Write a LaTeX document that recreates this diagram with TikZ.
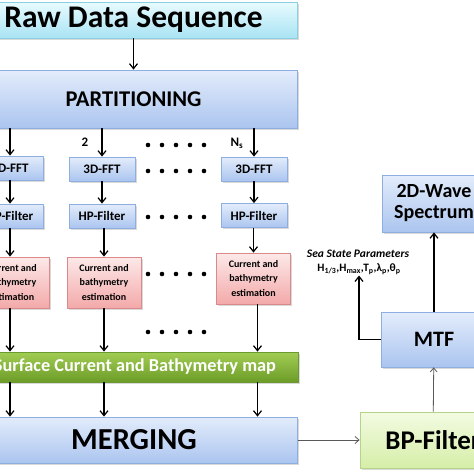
\documentclass[tikz,border=0pt]{standalone}
\usepackage{fontspec}
\setmainfont{Carlito}
\usetikzlibrary{arrows.meta,shadows}
\definecolor{rawtop}{HTML}{E8FBFE}
\definecolor{rawbot}{HTML}{A9E3F3}
\definecolor{rawline}{HTML}{8CCFE0}
\definecolor{boxtop}{HTML}{E3ECFB}
\definecolor{boxbot}{HTML}{ABC5EF}
\definecolor{boxline}{HTML}{8EAEE0}
\definecolor{curtop}{HTML}{FDE9E9}
\definecolor{curbot}{HTML}{F3A9A9}
\definecolor{curline}{HTML}{DA8A8A}
\definecolor{grntop}{HTML}{A2CD54}
\definecolor{grnbot}{HTML}{6C9C28}
\definecolor{grnline}{HTML}{6A9A30}
\definecolor{bptop}{HTML}{F3FBE2}
\definecolor{bpbot}{HTML}{D5EEA8}
\definecolor{bpline}{HTML}{B5D38A}
\newcommand\fsz[1]{\fontsize{#1}{#1}\selectfont\bfseries}
\begin{document}
\begin{tikzpicture}[x=1pt,y=-1pt,
  boxshadow/.style={drop shadow={shadow xshift=1.5pt,shadow yshift=-1.5pt,opacity=0.3},inner sep=0pt,line width=0.8pt},
  bluebox/.style={boxshadow,draw=boxline,top color=boxtop,bottom color=boxbot},
  fftbox/.style={bluebox,minimum width=66pt,minimum height=24pt,font=\fsz{13}},
  curbox/.style={boxshadow,draw=curline,top color=curtop,bottom color=curbot,minimum width=74pt,minimum height=51pt,align=center,font=\fontsize{10}{14.5}\selectfont\bfseries},
  arr/.style={-{Straight Barb[length=5pt,width=8pt]},line width=1.2pt},
  garr/.style={-{Straight Barb[length=4pt,width=7pt]},line width=0.8pt,black!65}]
\useasboundingbox (0,0) rectangle (474,474);
\clip (0,0) rectangle (474,474);
\node[boxshadow,draw=rawline,top color=rawtop,bottom color=rawbot,minimum width=327pt,minimum height=36pt,font=\fsz{31.5}] (raw) at (133.5,20) {Raw Data Sequence};
\node[bluebox,minimum width=327pt,minimum height=58pt,font=\fsz{22.5}] (part) at (133.5,99) {PARTITIONING};
\node[fftbox] (fft1) at (10,168) {3D-FFT};
\node[fftbox] (fft2) at (102,169) {3D-FFT};
\node[fftbox] (fft3) at (254,169) {3D-FFT};
\node[fftbox] (hp1) at (10,216) {HP-Filter};
\node[fftbox] (hp2) at (102,216) {HP-Filter};
\node[fftbox] (hp3) at (254,215.5) {HP-Filter};
\node[curbox] (cur1) at (12,282.5) {Current and\\bathymetry\\estimation};
\node[curbox] (cur2) at (104,282.5) {Current and\\bathymetry\\estimation};
\node[curbox] (cur3) at (253.5,278.5) {Current and\\bathymetry\\estimation};
\node[boxshadow,draw=grnline,top color=grntop,bottom color=grnbot,minimum width=327pt,minimum height=30pt,text=white,font=\fsz{18.3}] (map) at (135,367) {Surface Current and Bathymetry map};
\node[bluebox,minimum width=327pt,minimum height=46pt,font=\fsz{30.5}] (merge) at (134,440) {MERGING};
\node[boxshadow,draw=bpline,top color=bptop,bottom color=bpbot,minimum width=146pt,minimum height=56pt,font=\fsz{27}] (bp) at (433,440) {BP-Filter};
\node[bluebox,minimum width=106pt,minimum height=55pt,font=\fsz{22}] (mtf) at (434,339.5) {MTF};
\node[bluebox,minimum width=104pt,minimum height=57pt,align=center,font=\fontsize{20}{21}\selectfont\bfseries] (wave) at (434,203.5) {2D-Wave\\Spectrum};
\node[font=\fontsize{11.5}{12}\selectfont\bfseries\itshape] (sea) at (358,254) {Sea State Parameters};
\node[font=\fontsize{11.3}{12}\selectfont\bfseries,inner sep=1pt] (par) at (359,269) {H\textsubscript{1/3},H\textsubscript{max},T\textsubscript{p},λ\textsubscript{p},θ\textsubscript{p}};
\node[font=\fsz{13}] (lab2) at (85,142) {2};
\node[font=\fsz{13}] (labn) at (237,143) {N\textsubscript{s}};
\draw[arr] (raw) -- (part);
\draw[arr] (part.south -| fft1) -- (fft1);
\draw[arr] (part.south -| fft2) -- (fft2);
\draw[arr] (part.south -| fft3) -- (fft3);
\draw[arr] (fft1) -- (hp1);
\draw[arr] (fft2) -- (hp2);
\draw[arr] (fft3) -- (hp3);
\draw[arr] (hp1) -- (hp1 |- cur1.north);
\draw[arr] (hp2.south -| cur2) -- (cur2);
\draw[arr] (hp3.south -| cur3) -- (cur3);
\draw[arr] (cur1.south -| hp1) -- (map.north -| hp1);
\draw[arr] (cur2) -- (cur2 |- map.north);
\draw[arr] (cur3.south) ++(4,0) coordinate (c3) -- (c3 |- map.north);
\draw[arr] (map.south -| hp1) -- (merge.north -| hp1);
\draw[arr] (map.south -| cur2) -- (merge.north -| cur2);
\draw[arr] (map.south -| c3) -- (merge.north -| c3);
\draw[garr] (merge) -- (bp);
\draw[garr] (bp) -- (mtf);
\draw[arr] (mtf) -- (wave);
\draw[arr] (mtf.west) -| (par.south);
\foreach \y in {145,171,217,274,332}
  \foreach \x in {148,162,176,190,204}
    \fill (\x,\y) circle (2.3);
\end{tikzpicture}
\end{document}
